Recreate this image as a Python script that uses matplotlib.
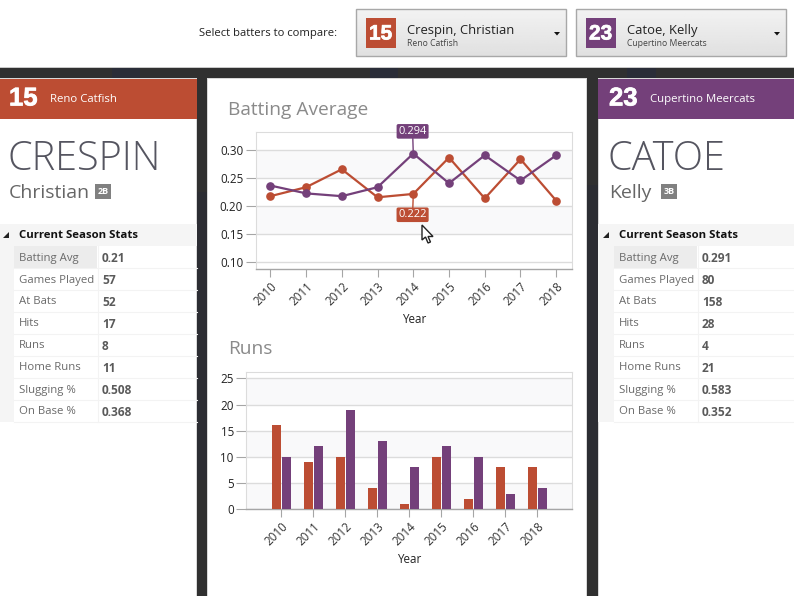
#!/usr/bin/env python3
import matplotlib
matplotlib.use("Agg")
import matplotlib.pyplot as plt
import matplotlib.patheffects as pe
import numpy as np
from matplotlib.patches import Polygon, Rectangle

plt.rcParams["font.family"] = ["Open Sans", "DejaVu Sans"]

RED = "#BC4D33"
PURPLE = "#74407A"
W, H = 794, 596

years = [2010, 2011, 2012, 2013, 2014, 2015, 2016, 2017, 2018]
avgRed = [0.218, 0.234, 0.266, 0.216, 0.222, 0.287, 0.214, 0.284, 0.210]
avgPurple = [0.237, 0.223, 0.218, 0.234, 0.294, 0.241, 0.291, 0.246, 0.291]
runsRed = [16, 9, 10, 4, 1, 10, 2, 8, 8]
runsPurple = [10, 12, 19, 13, 8, 12, 10, 3, 4]
avgTicks = [0.10, 0.15, 0.20, 0.25, 0.30]
runsTicks = [0, 5, 10, 15, 20, 25]

statNames = ["Batting Avg", "Games Played", "At Bats", "Hits", "Runs", "Home Runs", "Slugging %", "On Base %"]
statsRed = ["0.21", "57", "52", "17", "8", "11", "0.508", "0.368"]
statsPurple = ["0.291", "80", "158", "28", "4", "21", "0.583", "0.352"]


def axesAt(fig, left, top, right, bottom):
    return fig.add_axes([left / W, 1 - bottom / H, (right - left) / W, (bottom - top) / H])


def rect(ax, x0, y0, x1, y1, color, **kw):
    ax.add_patch(Rectangle((x0, y0), x1 - x0, y1 - y0, facecolor=color, edgecolor="none", **kw))


def bigNumber(ax, x, y, text, size):
    t = ax.text(x, y, text, color="white", fontsize=size, fontweight="bold", family="Liberation Sans",
                va="center", zorder=4)
    t.set_path_effects([pe.withStroke(linewidth=0.5, foreground="white")])


def dropdown(ax, x0, color, number, name, team):
    ax.imshow(np.linspace(0.95, 0.88, 30).reshape(-1, 1), cmap="gray", vmin=0, vmax=1, aspect="auto",
              extent=(x0, x0 + 210, 56, 9), zorder=1)
    ax.add_patch(Rectangle((x0, 9), 210, 47, facecolor="none", edgecolor="#a8a8a8", lw=1, zorder=2))
    rect(ax, x0 + 10, 18, x0 + 40, 48, color, zorder=3)
    bigNumber(ax, x0 + 13, 34, number, 15)
    ax.text(x0 + 51, 30.5, name, fontsize=9.4, color="#222222", va="center", zorder=4)
    ax.text(x0 + 51, 43, team, fontsize=6.2, color="#444444", va="center", zorder=4)
    ax.add_patch(Polygon([(x0 + 198, 32), (x0 + 204, 32), (x0 + 201, 35.5)], facecolor="#111111", zorder=4))


def playerPanel(ax, x0, x1, color, number, team, last, first, pos, posX, stats):
    rect(ax, x0, 78, x1, H, "#d8d8d8")
    rect(ax, x0 + (1 if x0 > 0 else 0), 79, x1 - (1 if x1 < W else 0), H, "white")
    rect(ax, x0, 79, x1, 119, color)
    off = x0 + 2 if x0 > 0 else 0
    bigNumber(ax, off + 9, 98.5, number, 18.5)
    ax.text(off + 50, 99.5, team, color="white", fontsize=8.2, va="center")
    ax.text(off + 8, 159, last, color="#555560", fontsize=28.5, fontweight="light", va="center")
    ax.text(off + 9, 193, first, color="#666666", fontsize=14, va="center")
    rect(ax, posX, 184, posX + 16, 199, "#808080")
    ax.text(posX + 8, 192, pos, color="white", fontsize=6.5, fontweight="bold", ha="center", va="center")

    # stats table
    rect(ax, x0, 224, x1, 246, "#f5f5f5")
    rect(ax, x0, 246, off + 14, 422, "#f5f5f5")
    rect(ax, off + 14, 246, off + 97, 268, "#ececec")
    ax.add_patch(Polygon([(off + 3, 238), (off + 8.5, 238), (off + 8.5, 232)], facecolor="#222222"))
    ax.text(off + 19, 235.5, "Current Season Stats", fontsize=8.2, fontweight="bold", color="#111111", va="center")
    ax.plot([off + 97.5, off + 97.5], [246, 422], color="#f3f3f3", lw=0.8)
    for i, (label, value) in enumerate(zip(statNames, stats)):
        y = 258 + 22 * i
        ax.text(off + 19, y, label, fontsize=8.2, color="#6a6a6a", va="center")
        ax.text(off + 102, y, value, fontsize=8.6, fontweight="bold", color="#5a5a5a", va="center")
        ax.plot([off + 14, x1], [y + 10, y + 10], color="#f3f3f3", lw=0.8)


def styleChart(ax, ticks, labelPos, xlim, ylim):
    ax.set_xlim(*xlim)
    ax.set_ylim(*ylim)
    ax.set_facecolor("white")
    for k in range(len(ticks) - 1):
        if (len(ticks) - k) % 2 == 0:
            ax.axhspan(ticks[k], ticks[k + 1], color="#f9f9fa", lw=0, zorder=0)
    ax.set_yticks(ticks)
    ax.grid(axis="y", color="#dcdcdc", lw=1, zorder=1)
    ax.set_axisbelow(True)
    for side in ["top", "right", "left"]:
        ax.spines[side].set_color("#dcdcdc")
    ax.spines["bottom"].set_color("#a6a6a6")
    ax.spines["bottom"].set_linewidth(1)
    ax.tick_params(axis="y", length=7, width=0.8, color="#a6a6a6", labelsize=8.4, labelcolor="#222222", pad=2)
    ax.tick_params(axis="x", length=6, width=0.8, color="#a6a6a6", labelsize=8.4, labelcolor="#333333", pad=2)
    ax.set_xticks(labelPos)
    ax.set_xticklabels(years, rotation=45, ha="right", rotation_mode="anchor")
    ax.set_xlabel("Year", fontsize=8.4, color="#222222", labelpad=3)


def main():
    fig = plt.figure(figsize=(W / 100, H / 100), dpi=100, facecolor="white")

    ui = fig.add_axes([0, 0, 1, 1])
    ui.set_xlim(0, W)
    ui.set_ylim(H, 0)
    ui.axis("off")

    # dark backdrop behind the panels
    rect(ui, 0, 68, W, H, "#303030")
    rect(ui, 0, 67, W, 68, "#c8c8c8")
    for x0, x1 in [(112, 140), (370, 398), (627, 656)]:
        rect(ui, x0, 68, x1, 79, "#2a2d38")
    rect(ui, 197, 192, 207, 480, "#2c2d33")
    rect(ui, 587, 185, 598, 500, "#2c2d33")

    ui.text(199, 33.5, "Select batters to compare:", fontsize=8.1, color="#222222", va="center")
    dropdown(ui, 356, RED, "15", "Crespin, Christian", "Reno Catfish")
    dropdown(ui, 576, PURPLE, "23", "Catoe, Kelly", "Cupertino Meercats")
    ui.set_xlim(0, W)
    ui.set_ylim(H, 0)

    playerPanel(ui, 0, 197, RED, "15", "Reno Catfish", "CRESPIN", "Christian", "2B", 95, statsRed)
    playerPanel(ui, 598, W, PURPLE, "23", "Cupertino Meercats", "CATOE", "Kelly", "3B", 661, statsPurple)

    rect(ui, 207, 78, 587, H, "#d8d8d8")
    rect(ui, 208, 79, 586, H, "white")
    ui.text(228, 110, "Batting Average", fontsize=13.8, color="#8a8a8a", va="center")
    ui.text(228, 349, "Runs", fontsize=13.8, color="#8a8a8a", va="center")

    # line chart
    ax1 = axesAt(fig, 255.7, 132.3, 572.3, 269.3)
    xs = np.arange(len(years))
    styleChart(ax1, avgTicks, xs, (-0.41, 8.45), (0.0875, 0.332))
    ax1.plot(xs, avgRed, color=RED, lw=1.6, marker="o", ms=5.2, zorder=3, clip_on=False)
    ax1.plot(xs, avgPurple, color=PURPLE, lw=1.6, marker="o", ms=5.2, zorder=4, clip_on=False)
    hover = years.index(2014)
    for series, color, off in [(avgPurple, PURPLE, 16), (avgRed, RED, -15)]:
        ax1.annotate(f"{series[hover]:.3f}", xy=(hover, series[hover]), xytext=(-0.5, off), textcoords="offset points",
                     ha="center", va="center", fontsize=8, color="white", zorder=6,
                     bbox=dict(boxstyle="round,pad=0.1,rounding_size=0.1", facecolor=color, edgecolor=color),
                     arrowprops=dict(arrowstyle="-", color=color, lw=1, shrinkA=0, shrinkB=0))

    # bar chart
    ax2 = axesAt(fig, 246.3, 372.3, 572.3, 509.3)
    styleChart(ax2, runsTicks, xs, (-1.09, 9.09), (0, 26.15))
    ax2.bar(xs - 0.156, runsRed, width=0.28, color=RED, zorder=3)
    ax2.bar(xs + 0.156, runsPurple, width=0.28, color=PURPLE, zorder=3)

    # mouse pointer on top of everything
    top = fig.add_axes([0, 0, 1, 1], facecolor="none")
    top.set_xlim(0, W)
    top.set_ylim(H, 0)
    top.axis("off")
    top.add_patch(Polygon([(422, 225), (422, 240), (425.5, 237), (428, 243), (430.5, 242), (428, 236.5), (433, 236.5)],
                          closed=True, facecolor="white", edgecolor="#222222", lw=1))

    fig.savefig("out.png", dpi=100)


if __name__ == "__main__":
    main()
